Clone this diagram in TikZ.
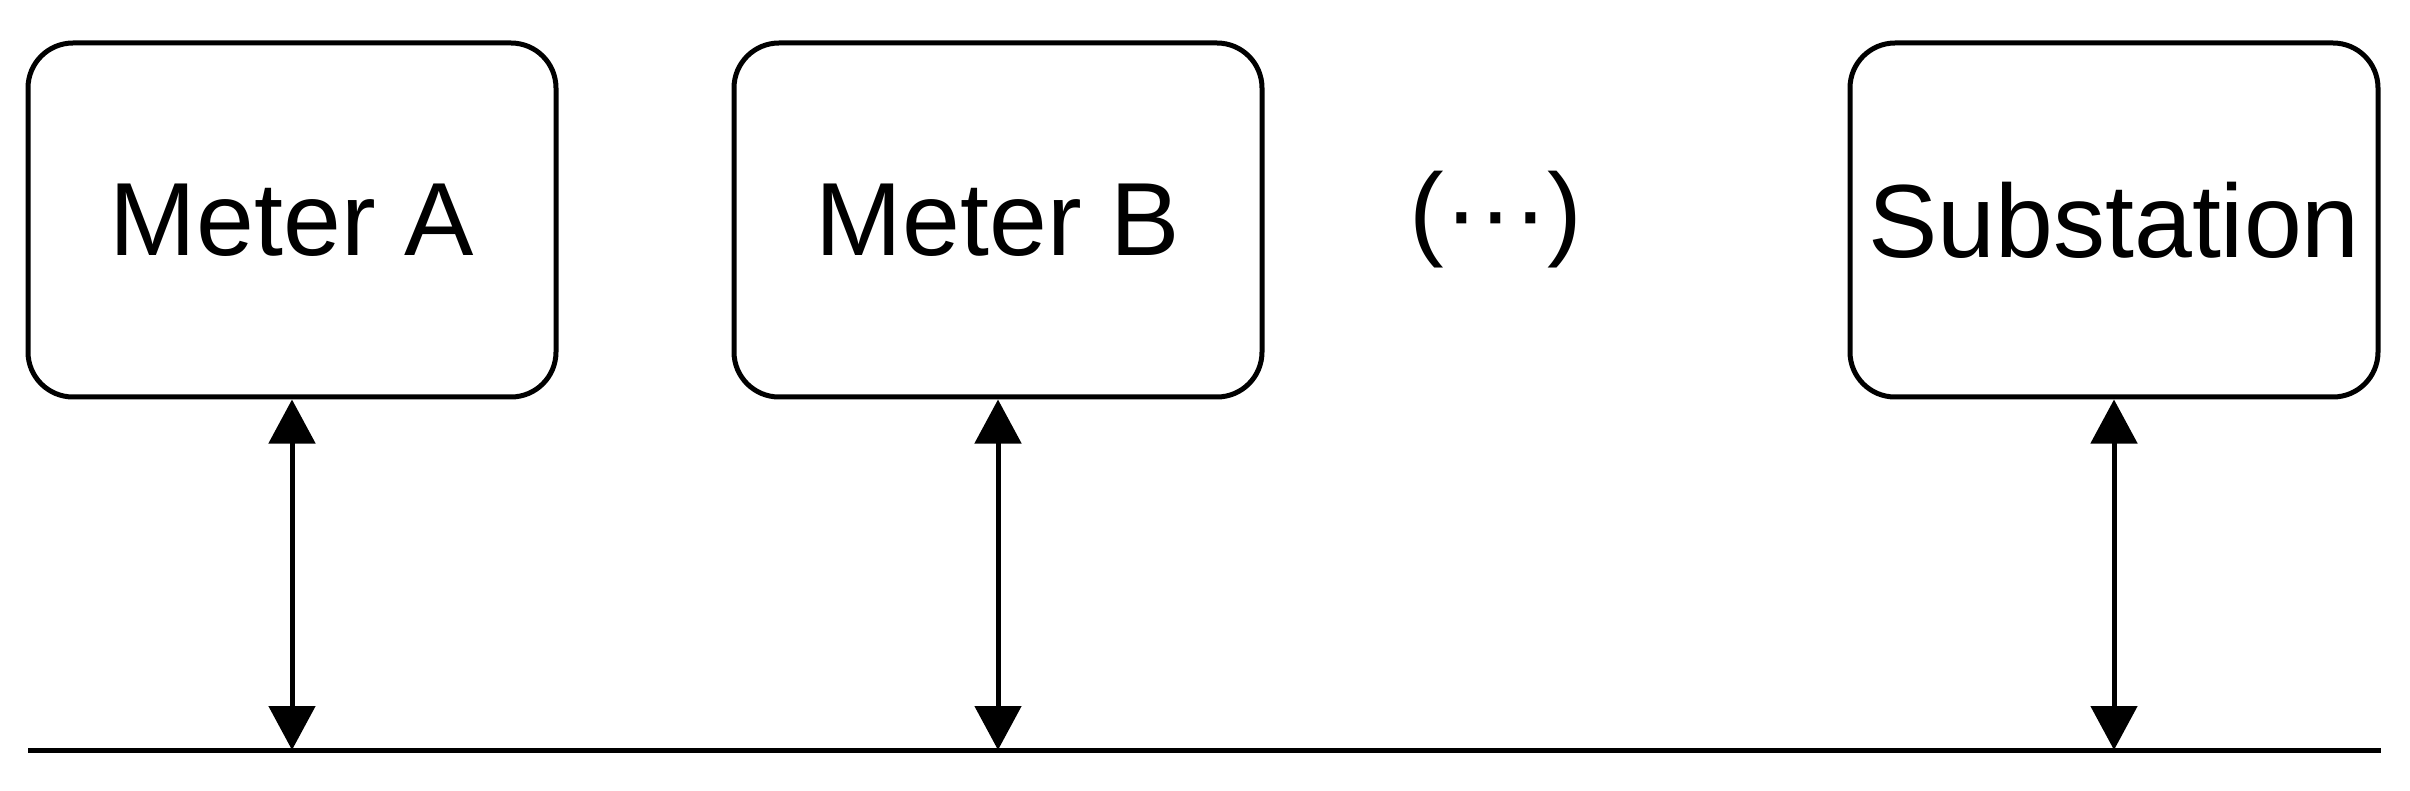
\documentclass[tikz,border=0pt]{standalone}
\usepackage{fontspec}
\setmainfont{Liberation Sans}
\usetikzlibrary{arrows.meta}
\begin{document}
\begin{tikzpicture}[x=1pt,y=1pt,
  box/.style={draw=black, line width=5pt, rounded corners=45pt, fill=white,
    minimum width=528pt, minimum height=354pt, inner sep=0pt,
    font=\fontsize{104}{110}\selectfont},
  link/.style={line width=5pt, {Triangle[length=44pt,width=46pt]}-{Triangle[length=44pt,width=46pt]}},
  busline/.style={line width=5pt}]
\useasboundingbox (0,0) rectangle (2410,-791);
\node[box] (A) at (292,-220) {Meter A};
\node[box] (B) at (998,-220) {Meter B};
\node[box] (S) at (2114,-220) {Substation};
\node[font=\fontsize{104}{110}\selectfont] (dots) at (1496,-220) {(···)};
\coordinate (busL) at (28,-750);
\coordinate (busR) at (2381,-750);
\draw[busline] (busL) -- (busR);
\coordinate (tA) at (A.south |- busL);
\coordinate (tB) at (B.south |- busL);
\coordinate (tS) at (S.south |- busL);
\draw[link] (A.south) -- (tA);
\draw[link] (B.south) -- (tB);
\draw[link] (S.south) -- (tS);
\end{tikzpicture}
\end{document}
